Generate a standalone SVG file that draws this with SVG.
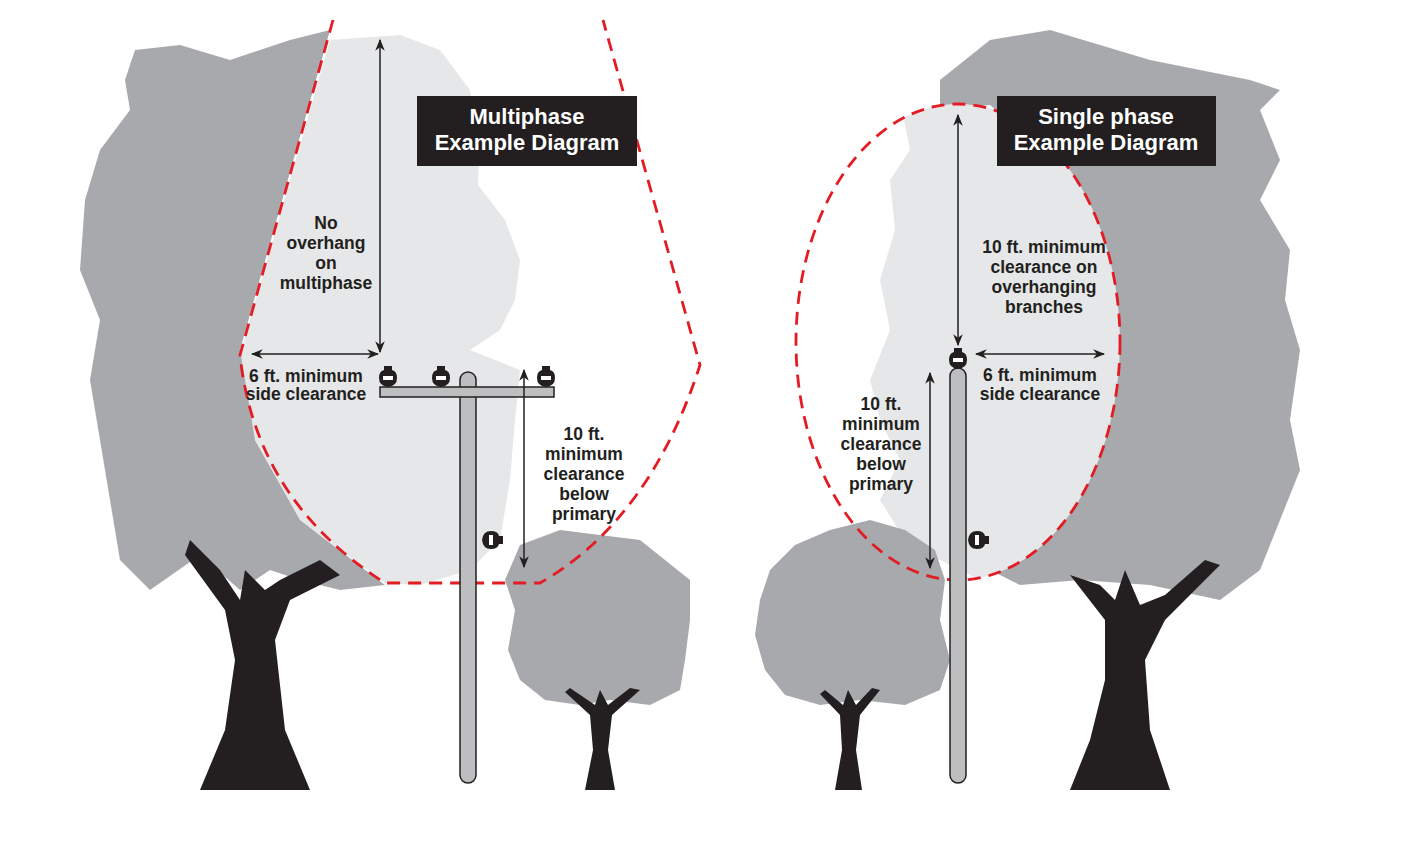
<svg xmlns="http://www.w3.org/2000/svg" width="1401" height="842" viewBox="0 0 1401 842">
<defs>
<style>
.dk{fill:#a7a9ac}.lt{fill:#e6e7e8}.tr{fill:#231f20}
.red{fill:none;stroke:#e31b23;stroke-width:2.8;stroke-dasharray:13 8}
.pole{fill:#bcbec0;stroke:#231f20;stroke-width:1.5}
.ar{stroke:#231f20;stroke-width:1.5;fill:none;marker-start:url(#a);marker-end:url(#a)}
.lb{font-family:"Liberation Sans",Arial,sans-serif;font-weight:bold;font-size:17.5px;fill:#231f20;text-anchor:middle}
.tt{font-family:"Liberation Sans",Arial,sans-serif;font-weight:bold;font-size:22px;fill:#fff;text-anchor:middle}
</style>
<marker id="a" viewBox="0 0 10 10" refX="9" refY="5" markerWidth="8" markerHeight="8" orient="auto-start-reverse"><path d="M0,1 L10,5 L0,9 L3,5 Z" fill="#231f20"/></marker>
<g id="ins"><path d="M-9,-4 Q-9,-11 -4,-12 L-4,-16 L4,-16 L4,-12 Q9,-11 9,-4 Q9,4 0,5 Q-9,4 -9,-4 Z" fill="#231f20"/><rect x="-5" y="-6" width="10" height="4" fill="#fff"/></g>
<clipPath id="ell"><ellipse cx="958" cy="342" rx="162" ry="238"/></clipPath>
</defs>
<rect width="1401" height="842" fill="#fff"/>
<g id="left-scene">
<path class="lt" d="M330,40 L400,35 L440,50 L470,90 L480,140 L478,185 L505,220 L520,260 L515,300 L500,330 L470,350 L520,370 L515,420 L510,480 L500,540 L470,570 L420,585 L385,583 L300,520 L250,430 L240,355 Z"/>
<path class="dk" d="M135,50 L180,45 L230,60 L290,40 L330,30 L240,350 L255,440 L300,520 L385,585 L340,590 L300,580 L270,570 L240,590 L200,555 L150,590 L120,560 L110,500 L100,440 L90,380 L100,320 L80,270 L85,200 L100,150 L130,110 L125,80 Z"/>
<path class="tr" d="M200,790 L310,790 L285,730 L275,640 L290,600 L340,575 L320,560 L280,580 L265,590 L245,570 L240,600 L220,570 L190,540 L185,555 L225,610 L235,660 L225,730 Z"/>
<path class="dk" d="M520,545 L560,530 L600,535 L640,540 L665,560 L690,580 L690,620 L685,660 L680,690 L650,705 L610,700 L580,705 L545,700 L520,680 L508,650 L515,610 L505,580 Z"/>
<path class="tr" d="M585,790 L615,790 L608,750 L612,715 L640,690 L630,688 L608,705 L600,690 L595,705 L570,688 L565,692 L590,715 L593,750 Z"/>
<path class="red" d="M333,20 L240,355 Q255,500 385,583 L540,583 Q650,520 700,365 L603,20"/>
<rect class="pole" x="460" y="372" width="16" height="411" rx="8"/>
<rect class="pole" x="380" y="387" width="174" height="10"/>
<use href="#ins" x="388" y="382"/><use href="#ins" x="441" y="382"/><use href="#ins" x="546" y="382"/>
<g transform="translate(487,540) rotate(90)"><use href="#ins"/></g>
<rect x="417" y="96" width="220" height="70" fill="#231f20"/>
<text class="tt" x="527" y="124">Multiphase</text><text class="tt" x="527" y="150">Example Diagram</text>
</g>
<g id="right-scene">
<path class="dk" d="M940,80 L990,40 L1050,30 L1100,45 L1150,60 L1200,70 L1250,80 L1280,90 L1260,110 L1280,160 L1260,200 L1290,250 L1285,300 L1300,350 L1290,420 L1300,470 L1280,520 L1260,570 L1220,600 L1150,585 L1080,580 L1020,585 L990,570 L1060,510 L1110,420 L1120,340 L1100,230 L1060,160 L990,105 L940,110 Z"/>
<path class="lt" clip-path="url(#ell)" d="M900,100 L1120,100 L1120,580 L980,580 L940,560 L905,540 L880,500 L900,460 L880,420 L870,380 L890,330 L880,280 L895,230 L890,180 L910,150 Z"/>
<path class="tr" d="M1070,790 L1170,790 L1150,730 L1145,660 L1165,620 L1220,565 L1205,560 L1165,595 L1140,605 L1125,570 L1115,600 L1100,585 L1070,575 L1105,620 L1105,680 L1090,740 Z"/>
<path class="dk" d="M795,545 L830,530 L870,520 L905,530 L935,550 L945,580 L940,620 L950,660 L940,690 L905,705 L860,700 L820,705 L785,695 L765,670 L755,635 L760,600 L770,570 Z"/>
<path class="tr" d="M835,790 L862,790 L856,750 L860,715 L880,690 L872,688 L856,705 L848,690 L843,705 L825,690 L820,694 L840,715 L842,750 Z"/>
<ellipse class="red" cx="958" cy="342" rx="162" ry="238"/>
<rect class="pole" x="950" y="368" width="16" height="415" rx="8"/>
<use href="#ins" x="958" y="364"/>
<g transform="translate(973,540) rotate(90)"><use href="#ins"/></g>
<rect x="997" y="96" width="219" height="70" fill="#231f20"/>
<text class="tt" x="1106" y="124">Single phase</text><text class="tt" x="1106" y="150">Example Diagram</text>
</g>
<g id="connectors">
<line class="ar" x1="380" y1="40" x2="380" y2="352"/>
<line class="ar" x1="252" y1="354" x2="378" y2="354"/>
<line class="ar" x1="524" y1="370" x2="524" y2="567"/>
<line class="ar" x1="958" y1="115" x2="958" y2="345"/>
<line class="ar" x1="976" y1="354" x2="1104" y2="354"/>
<line class="ar" x1="930" y1="373" x2="930" y2="568"/>
</g>
<g id="labels">
<text class="lb" x="326" y="229">No</text><text class="lb" x="326" y="249">overhang</text><text class="lb" x="326" y="269">on</text><text class="lb" x="326" y="289">multiphase</text>
<text class="lb" x="306" y="382">6 ft. minimum</text><text class="lb" x="306" y="400">side clearance</text>
<text class="lb" x="584" y="440">10 ft.</text><text class="lb" x="584" y="460">minimum</text><text class="lb" x="584" y="480">clearance</text><text class="lb" x="584" y="500">below</text><text class="lb" x="584" y="520">primary</text>
<text class="lb" x="1044" y="253">10 ft. minimum</text><text class="lb" x="1044" y="273">clearance on</text><text class="lb" x="1044" y="293">overhanging</text><text class="lb" x="1044" y="313">branches</text>
<text class="lb" x="1040" y="381">6 ft. minimum</text><text class="lb" x="1040" y="400">side clearance</text>
<text class="lb" x="881" y="410">10 ft.</text><text class="lb" x="881" y="430">minimum</text><text class="lb" x="881" y="450">clearance</text><text class="lb" x="881" y="470">below</text><text class="lb" x="881" y="490">primary</text>
</g>
</svg>
